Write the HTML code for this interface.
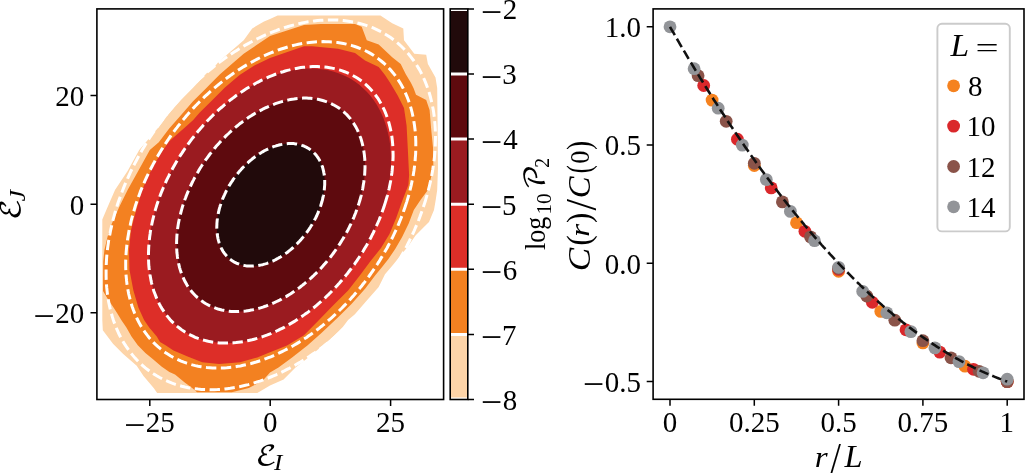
<!DOCTYPE html><html><head><meta charset="utf-8"><title>figure</title><style>html,body{margin:0;padding:0;background:#fff;overflow:hidden}svg{display:block}</style></head><body>
<svg width="1025" height="474" viewBox="0 0 1025 474">
<rect width="1025" height="474" fill="#fff"/>
<defs><clipPath id="c1"><rect x="96.9" y="8.9" width="346.7" height="390.6"/></clipPath>
<clipPath id="c2"><rect x="450.2" y="8.9" width="17.6" height="390.6"/></clipPath>
<clipPath id="c3"><rect x="653.1" y="8.9" width="370.9" height="390.4"/></clipPath></defs>
<g clip-path="url(#c1)">
<path d="M270.0,19.0 L277.6,15.6 L380.4,15.6 L392.2,23.3 L403.3,28.4 L404.0,40.3 L414.3,53.8 L426.2,54.7 L427.9,64.0 L435.5,77.6 L437.2,88.0 L438.0,168.0 L437.2,190.0 L435.7,200.0 L434.0,210.0 L429.0,222.0 L422.2,228.7 L415.5,235.5 L408.7,245.6 L400.3,255.7 L393.5,264.2 L385.0,274.3 L378.7,287.0 L366.8,300.6 L354.9,314.2 L348.1,320.0 L343.0,326.8 L332.8,337.0 L322.6,345.5 L310.7,355.7 L295.5,367.5 L283.6,379.4 L270.0,385.4 L265.8,387.9 L257.3,393.0 L157.1,393.0 L153.7,387.9 L143.5,376.0 L136.7,365.8 L123.2,354.0 L113.0,343.8 L102.8,330.2 L102.3,320.0 L102.3,219.6 L107.6,207.0 L115.0,190.0 L127.6,171.1 L139.2,150.0 L148.6,139.0 L158.8,127.0 L169.0,113.5 L180.9,99.9 L192.8,88.0 L206.4,73.4 L214.8,66.6 L218.2,62.3 L230.1,52.1 L243.7,40.3 L252.2,28.4 L264.0,21.6Z" fill="#fdd4a8"/>
<path d="M270.0,36.0 L304.0,25.0 L321.0,24.1 L355.0,24.1 L361.7,26.7 L366.8,40.3 L378.7,44.5 L392.2,57.2 L400.7,64.0 L405.8,74.2 L410.9,82.7 L413.5,88.0 L416.0,94.8 L426.2,99.9 L429.6,110.0 L431.3,130.4 L433.0,147.4 L433.4,168.0 L427.9,190.0 L420.5,200.0 L413.8,210.0 L408.7,223.6 L402.0,237.2 L395.2,249.0 L388.4,259.0 L381.7,267.6 L375.3,275.2 L365.1,288.7 L351.5,304.0 L337.9,317.6 L331.0,324.0 L320.9,333.6 L307.4,345.5 L292.1,357.4 L278.5,367.5 L270.0,372.6 L262.4,381.1 L248.8,387.9 L231.8,392.2 L197.0,392.2 L192.8,388.6 L184.4,382.3 L175.0,374.4 L169.4,371.9 L161.8,366.8 L153.0,359.2 L145.4,352.9 L137.8,345.3 L131.5,336.5 L126.4,327.6 L121.3,320.0 L116.9,312.7 L112.7,306.3 L108.4,300.0 L103.0,291.0 L103.2,262.0 L104.4,250.0 L107.6,236.5 L111.8,223.8 L119.2,207.0 L127.6,190.0 L138.2,171.0 L149.8,150.0 L158.8,142.3 L169.0,128.7 L180.9,115.2 L192.8,101.6 L206.4,88.0 L209.8,84.4 L220.0,74.2 L231.8,64.0 L243.7,53.8 L257.3,44.5Z" fill="#f38121"/>
<path d="M270.0,58.0 L304.0,46.2 L312.0,46.2 L338.0,48.7 L355.0,53.0 L365.0,60.6 L378.7,67.0 L385.0,75.0 L390.1,82.8 L397.7,95.4 L404.0,108.0 L406.6,125.8 L407.8,148.6 L409.1,175.0 L408.4,185.0 L402.2,201.0 L396.2,218.0 L389.5,234.0 L381.0,248.0 L370.2,261.6 L360.0,275.2 L348.1,290.4 L332.8,305.7 L319.0,320.0 L304.0,335.3 L287.0,345.5 L270.0,352.3 L257.3,357.4 L240.0,362.2 L219.1,363.9 L202.2,362.2 L187.0,356.3 L173.5,350.4 L165.6,345.3 L160.0,341.9 L156.8,336.5 L149.2,327.6 L144.1,320.0 L138.4,307.4 L133.4,290.4 L129.5,270.0 L129.0,250.0 L131.0,230.0 L135.0,214.3 L138.5,202.4 L142.0,190.6 L147.0,178.8 L153.7,165.3 L162.0,151.8 L169.0,141.5 L178.0,133.5 L186.0,126.5 L193.2,120.0 L199.5,112.8 L212.2,100.2 L224.9,87.5 L239.6,74.9 L254.4,65.4Z" fill="#dd2e28"/>
<path d="M384.1,204.8 L385.4,200.3 L386.6,195.6 L387.7,190.9 L388.6,186.0 L389.5,181.0 L390.1,176.0 L390.6,170.8 L390.9,165.6 L391.0,160.4 L390.9,155.1 L390.6,149.8 L390.1,144.4 L389.3,139.1 L388.2,133.8 L386.9,128.6 L385.3,123.4 L383.5,118.3 L381.4,113.4 L379.0,108.7 L376.3,104.1 L373.4,99.7 L370.2,95.6 L366.8,91.8 L363.1,88.2 L359.3,84.8 L355.2,81.8 L351.0,79.1 L346.7,76.8 L342.3,74.7 L337.7,72.9 L333.1,71.5 L328.4,70.3 L323.8,69.4 L319.1,68.9 L314.4,68.5 L309.7,68.5 L305.1,68.6 L300.5,69.0 L296.0,69.6 L291.6,70.4 L287.3,71.3 L283.0,72.4 L278.8,73.7 L274.8,75.0 L270.8,76.5 L266.9,78.1 L263.1,79.8 L259.4,81.6 L255.8,83.4 L252.3,85.4 L248.8,87.4 L245.5,89.4 L242.2,91.5 L239.0,93.7 L235.9,95.9 L232.9,98.1 L229.9,100.4 L227.0,102.7 L224.2,105.1 L221.4,107.5 L218.6,109.9 L216.0,112.4 L213.3,114.9 L210.8,117.4 L208.2,120.0 L205.7,122.7 L203.3,125.3 L200.9,128.0 L198.5,130.8 L196.2,133.6 L193.9,136.5 L191.6,139.4 L189.4,142.4 L187.2,145.4 L185.0,148.5 L182.9,151.6 L180.7,154.9 L178.7,158.2 L176.6,161.6 L174.6,165.0 L172.6,168.6 L170.7,172.2 L168.8,175.9 L166.9,179.7 L165.1,183.6 L163.3,187.7 L161.6,191.8 L160.0,196.0 L158.4,200.4 L156.9,204.8 L155.5,209.4 L154.2,214.1 L153.0,218.9 L151.9,223.8 L150.9,228.9 L150.1,234.0 L149.4,239.3 L148.9,244.6 L148.6,250.0 L148.5,255.5 L148.6,261.0 L148.9,266.5 L149.6,272.1 L150.5,277.6 L151.6,283.1 L153.1,288.5 L154.9,293.8 L156.9,298.9 L159.3,303.9 L162.0,308.6 L165.0,313.2 L168.3,317.4 L171.8,321.4 L175.6,325.0 L179.7,328.3 L183.9,331.3 L188.3,334.0 L192.9,336.2 L197.5,338.2 L202.3,339.8 L207.1,341.0 L212.0,342.0 L216.8,342.6 L221.7,343.0 L226.5,343.1 L231.3,343.0 L236.0,342.6 L240.7,342.0 L245.3,341.3 L249.8,340.3 L254.2,339.2 L258.5,338.0 L262.7,336.6 L266.8,335.2 L270.8,333.6 L274.7,331.9 L278.5,330.1 L282.2,328.3 L285.8,326.4 L289.3,324.4 L292.7,322.4 L296.1,320.3 L299.3,318.2 L302.5,316.0 L305.6,313.8 L308.7,311.6 L311.6,309.3 L314.6,307.0 L317.4,304.6 L320.2,302.2 L322.9,299.8 L325.6,297.3 L328.2,294.8 L330.8,292.2 L333.3,289.6 L335.8,287.0 L338.3,284.3 L340.7,281.6 L343.0,278.9 L345.4,276.0 L347.7,273.2 L349.9,270.3 L352.2,267.3 L354.4,264.3 L356.5,261.2 L358.7,258.0 L360.8,254.8 L362.9,251.5 L364.9,248.1 L366.9,244.6 L368.9,241.1 L370.8,237.5 L372.6,233.7 L374.5,229.9 L376.2,226.0 L378.0,222.0 L379.6,217.8 L381.2,213.6 L382.7,209.3Z" fill="#9a1b20"/>
<path d="M358.5,204.8 L359.6,201.3 L360.6,197.7 L361.5,194.0 L362.4,190.2 L363.1,186.3 L363.8,182.3 L364.3,178.3 L364.7,174.1 L364.9,170.0 L365.0,165.8 L364.9,161.5 L364.6,157.2 L364.1,152.9 L363.4,148.7 L362.5,144.4 L361.4,140.3 L360.0,136.2 L358.4,132.2 L356.6,128.4 L354.5,124.7 L352.2,121.2 L349.7,117.9 L347.0,114.9 L344.0,112.1 L340.9,109.5 L337.7,107.2 L334.3,105.2 L330.8,103.4 L327.2,101.9 L323.5,100.7 L319.8,99.7 L316.1,99.0 L312.3,98.5 L308.6,98.2 L304.8,98.1 L301.2,98.2 L297.5,98.5 L293.9,99.0 L290.4,99.5 L286.9,100.3 L283.6,101.1 L280.2,102.1 L277.0,103.1 L273.9,104.3 L270.8,105.5 L267.8,106.8 L264.8,108.1 L262.0,109.6 L259.2,111.0 L256.5,112.5 L253.9,114.1 L251.3,115.7 L248.8,117.3 L246.3,119.0 L243.9,120.7 L241.6,122.5 L239.3,124.2 L237.1,126.0 L234.9,127.8 L232.7,129.7 L230.6,131.6 L228.6,133.5 L226.5,135.4 L224.6,137.4 L222.6,139.4 L220.7,141.4 L218.8,143.5 L216.9,145.6 L215.1,147.7 L213.3,149.9 L211.5,152.1 L209.8,154.3 L208.1,156.6 L206.4,159.0 L204.7,161.4 L203.1,163.8 L201.4,166.3 L199.8,168.8 L198.3,171.4 L196.7,174.1 L195.2,176.8 L193.7,179.6 L192.2,182.5 L190.8,185.5 L189.4,188.5 L188.0,191.6 L186.7,194.8 L185.5,198.0 L184.2,201.4 L183.1,204.8 L182.0,208.4 L181.0,212.0 L180.0,215.7 L179.2,219.5 L178.4,223.4 L177.8,227.4 L177.3,231.4 L176.9,235.5 L176.7,239.7 L176.6,243.9 L176.7,248.2 L176.9,252.5 L177.4,256.7 L178.1,261.0 L179.0,265.2 L180.1,269.4 L181.5,273.5 L183.1,277.4 L184.9,281.3 L187.0,285.0 L189.3,288.4 L191.8,291.7 L194.6,294.8 L197.5,297.6 L200.6,300.2 L203.9,302.5 L207.3,304.5 L210.8,306.2 L214.4,307.7 L218.0,309.0 L221.7,310.0 L225.5,310.7 L229.2,311.2 L233.0,311.5 L236.7,311.6 L240.4,311.4 L244.0,311.2 L247.6,310.7 L251.1,310.1 L254.6,309.4 L258.0,308.6 L261.3,307.6 L264.5,306.5 L267.7,305.4 L270.8,304.2 L273.8,302.9 L276.7,301.5 L279.6,300.1 L282.3,298.6 L285.0,297.1 L287.7,295.6 L290.3,294.0 L292.8,292.3 L295.2,290.7 L297.6,288.9 L300.0,287.2 L302.3,285.4 L304.5,283.6 L306.7,281.8 L308.8,280.0 L310.9,278.1 L313.0,276.2 L315.0,274.2 L317.0,272.3 L318.9,270.3 L320.9,268.2 L322.7,266.2 L324.6,264.1 L326.4,262.0 L328.2,259.8 L330.0,257.6 L331.7,255.3 L333.5,253.0 L335.2,250.7 L336.8,248.3 L338.5,245.9 L340.1,243.4 L341.7,240.8 L343.3,238.2 L344.8,235.6 L346.4,232.8 L347.9,230.0 L349.3,227.2 L350.8,224.2 L352.2,221.2 L353.5,218.1 L354.8,214.9 L356.1,211.6 L357.3,208.3Z" fill="#5e0a0e"/>
<path d="M321.0,204.8 L321.6,202.8 L322.2,200.7 L322.7,198.6 L323.2,196.4 L323.7,194.2 L324.0,191.9 L324.3,189.6 L324.5,187.2 L324.7,184.8 L324.7,182.4 L324.7,179.9 L324.5,177.5 L324.2,175.0 L323.8,172.6 L323.3,170.1 L322.7,167.7 L321.9,165.4 L321.0,163.1 L319.9,160.9 L318.7,158.8 L317.4,156.8 L316.0,154.9 L314.4,153.2 L312.7,151.6 L311.0,150.1 L309.1,148.8 L307.1,147.6 L305.1,146.6 L303.1,145.7 L301.0,145.0 L298.9,144.5 L296.7,144.0 L294.6,143.7 L292.4,143.6 L290.3,143.5 L288.2,143.6 L286.1,143.8 L284.0,144.0 L282.0,144.4 L280.0,144.8 L278.1,145.3 L276.2,145.8 L274.3,146.4 L272.5,147.1 L270.8,147.8 L269.1,148.5 L267.4,149.3 L265.7,150.1 L264.1,150.9 L262.6,151.8 L261.1,152.7 L259.6,153.6 L258.2,154.6 L256.8,155.5 L255.4,156.5 L254.1,157.5 L252.7,158.5 L251.5,159.6 L250.2,160.6 L249.0,161.7 L247.8,162.8 L246.6,163.9 L245.4,165.0 L244.3,166.1 L243.2,167.2 L242.1,168.4 L241.0,169.6 L239.9,170.8 L238.9,172.0 L237.9,173.3 L236.9,174.5 L235.9,175.8 L234.9,177.1 L233.9,178.5 L232.9,179.9 L232.0,181.3 L231.1,182.7 L230.1,184.2 L229.2,185.6 L228.4,187.2 L227.5,188.8 L226.6,190.4 L225.8,192.0 L225.0,193.7 L224.2,195.4 L223.4,197.2 L222.6,199.0 L221.9,200.9 L221.2,202.9 L220.6,204.8 L219.9,206.9 L219.3,208.9 L218.8,211.1 L218.3,213.3 L217.9,215.5 L217.5,217.8 L217.2,220.1 L217.0,222.5 L216.9,224.9 L216.8,227.3 L216.9,229.7 L217.0,232.2 L217.3,234.6 L217.7,237.1 L218.2,239.5 L218.9,241.9 L219.6,244.3 L220.6,246.5 L221.6,248.7 L222.8,250.9 L224.1,252.9 L225.6,254.7 L227.1,256.5 L228.8,258.1 L230.6,259.6 L232.5,260.9 L234.4,262.1 L236.4,263.1 L238.5,263.9 L240.6,264.7 L242.7,265.2 L244.8,265.6 L247.0,265.9 L249.1,266.1 L251.3,266.1 L253.4,266.1 L255.5,265.9 L257.5,265.7 L259.5,265.3 L261.5,264.9 L263.5,264.4 L265.3,263.9 L267.2,263.3 L269.0,262.6 L270.8,261.9 L272.5,261.2 L274.2,260.4 L275.8,259.6 L277.4,258.7 L278.9,257.8 L280.5,257.0 L281.9,256.0 L283.4,255.1 L284.8,254.1 L286.2,253.1 L287.5,252.2 L288.8,251.1 L290.1,250.1 L291.3,249.1 L292.6,248.0 L293.8,246.9 L295.0,245.8 L296.1,244.7 L297.2,243.6 L298.4,242.4 L299.5,241.3 L300.5,240.1 L301.6,238.9 L302.6,237.6 L303.7,236.4 L304.7,235.1 L305.7,233.8 L306.7,232.5 L307.7,231.2 L308.6,229.8 L309.6,228.4 L310.5,227.0 L311.4,225.5 L312.3,224.0 L313.2,222.5 L314.1,220.9 L314.9,219.3 L315.8,217.7 L316.6,216.0 L317.4,214.2 L318.2,212.4 L318.9,210.6 L319.6,208.7 L320.3,206.8Z" fill="#210a0b"/>
<path d="M321.0,204.8 L321.3,203.8 L321.6,202.8 L321.9,201.8 L322.2,200.7 L322.5,199.7 L322.7,198.6 L323.0,197.5 L323.2,196.4 L323.5,195.3 L323.7,194.2 L323.8,193.0 L324.0,191.9 L324.2,190.7 L324.3,189.6 L324.4,188.4 L324.5,187.2 L324.6,186.0 L324.7,184.8 L324.7,183.6 L324.7,182.4 L324.7,181.2 L324.7,179.9 L324.6,178.7 L324.5,177.5 L324.4,176.2 L324.2,175.0 L324.1,173.8 L323.8,172.6 L323.6,171.4 L323.3,170.1 L323.0,168.9 L322.7,167.7 L322.3,166.6 L321.9,165.4 L321.5,164.3 L321.0,163.1 L320.5,162.0 L319.9,160.9 L319.4,159.9 L318.7,158.8 L318.1,157.8 L317.4,156.8 L316.7,155.9 L316.0,154.9 L315.2,154.0 L314.4,153.2 L313.6,152.3 L312.7,151.6 L311.9,150.8 L311.0,150.1 L310.0,149.4 L309.1,148.8 L308.1,148.2 L307.1,147.6 L306.2,147.1 L305.1,146.6 L304.1,146.1 L303.1,145.7 L302.0,145.4 L301.0,145.0 L299.9,144.7 L298.9,144.5 L297.8,144.2 L296.7,144.0 L295.6,143.9 L294.6,143.7 L293.5,143.6 L292.4,143.6 L291.4,143.5 L290.3,143.5 L289.2,143.6 L288.2,143.6 L287.1,143.7 L286.1,143.8 L285.1,143.9 L284.0,144.0 L283.0,144.2 L282.0,144.4 L281.0,144.6 L280.0,144.8 L279.1,145.0 L278.1,145.3 L277.1,145.5 L276.2,145.8 L275.3,146.1 L274.3,146.4 L273.4,146.7 L272.5,147.1 L271.7,147.4 L270.8,147.8 L269.9,148.1 L269.1,148.5 L268.2,148.9 L267.4,149.3 L266.6,149.7 L265.7,150.1 L264.9,150.5 L264.1,150.9 L263.4,151.4 L262.6,151.8 L261.8,152.3 L261.1,152.7 L260.3,153.2 L259.6,153.6 L258.9,154.1 L258.2,154.6 L257.5,155.1 L256.8,155.5 L256.1,156.0 L255.4,156.5 L254.7,157.0 L254.1,157.5 L253.4,158.0 L252.7,158.5 L252.1,159.0 L251.5,159.6 L250.8,160.1 L250.2,160.6 L249.6,161.1 L249.0,161.7 L248.4,162.2 L247.8,162.8 L247.2,163.3 L246.6,163.9 L246.0,164.4 L245.4,165.0 L244.9,165.5 L244.3,166.1 L243.7,166.7 L243.2,167.2 L242.6,167.8 L242.1,168.4 L241.5,169.0 L241.0,169.6 L240.5,170.2 L239.9,170.8 L239.4,171.4 L238.9,172.0 L238.4,172.6 L237.9,173.3 L237.4,173.9 L236.9,174.5 L236.4,175.2 L235.9,175.8 L235.4,176.5 L234.9,177.1 L234.4,177.8 L233.9,178.5 L233.4,179.2 L232.9,179.9 L232.5,180.6 L232.0,181.3 L231.5,182.0 L231.1,182.7 L230.6,183.4 L230.1,184.2 L229.7,184.9 L229.2,185.6 L228.8,186.4 L228.4,187.2 L227.9,188.0 L227.5,188.8 L227.0,189.6 L226.6,190.4 L226.2,191.2 L225.8,192.0 L225.4,192.9 L225.0,193.7 L224.6,194.6 L224.2,195.4 L223.8,196.3 L223.4,197.2 L223.0,198.1 L222.6,199.0 L222.3,200.0 L221.9,200.9 L221.6,201.9 L221.2,202.9 L220.9,203.8 L220.6,204.8 L220.2,205.8 L219.9,206.9 L219.6,207.9 L219.3,208.9 L219.1,210.0 L218.8,211.1 L218.6,212.2 L218.3,213.3 L218.1,214.4 L217.9,215.5 L217.7,216.6 L217.5,217.8 L217.4,218.9 L217.2,220.1 L217.1,221.3 L217.0,222.5 L216.9,223.7 L216.9,224.9 L216.8,226.1 L216.8,227.3 L216.8,228.5 L216.9,229.7 L216.9,231.0 L217.0,232.2 L217.2,233.4 L217.3,234.6 L217.5,235.9 L217.7,237.1 L217.9,238.3 L218.2,239.5 L218.5,240.7 L218.9,241.9 L219.2,243.1 L219.6,244.3 L220.1,245.4 L220.6,246.5 L221.1,247.7 L221.6,248.7 L222.2,249.8 L222.8,250.9 L223.4,251.9 L224.1,252.9 L224.8,253.8 L225.6,254.7 L226.3,255.6 L227.1,256.5 L228.0,257.3 L228.8,258.1 L229.7,258.9 L230.6,259.6 L231.5,260.3 L232.5,260.9 L233.4,261.5 L234.4,262.1 L235.4,262.6 L236.4,263.1 L237.4,263.5 L238.5,263.9 L239.5,264.3 L240.6,264.7 L241.6,265.0 L242.7,265.2 L243.8,265.4 L244.8,265.6 L245.9,265.8 L247.0,265.9 L248.1,266.0 L249.1,266.1 L250.2,266.1 L251.3,266.1 L252.3,266.1 L253.4,266.1 L254.4,266.0 L255.5,265.9 L256.5,265.8 L257.5,265.7 L258.5,265.5 L259.5,265.3 L260.5,265.1 L261.5,264.9 L262.5,264.7 L263.5,264.4 L264.4,264.1 L265.3,263.9 L266.3,263.6 L267.2,263.3 L268.1,262.9 L269.0,262.6 L269.9,262.3 L270.8,261.9 L271.6,261.5 L272.5,261.2 L273.3,260.8 L274.2,260.4 L275.0,260.0 L275.8,259.6 L276.6,259.1 L277.4,258.7 L278.2,258.3 L278.9,257.8 L279.7,257.4 L280.5,257.0 L281.2,256.5 L281.9,256.0 L282.7,255.6 L283.4,255.1 L284.1,254.6 L284.8,254.1 L285.5,253.6 L286.2,253.1 L286.8,252.7 L287.5,252.2 L288.2,251.6 L288.8,251.1 L289.4,250.6 L290.1,250.1 L290.7,249.6 L291.3,249.1 L292.0,248.5 L292.6,248.0 L293.2,247.5 L293.8,246.9 L294.4,246.4 L295.0,245.8 L295.5,245.3 L296.1,244.7 L296.7,244.1 L297.2,243.6 L297.8,243.0 L298.4,242.4 L298.9,241.8 L299.5,241.3 L300.0,240.7 L300.5,240.1 L301.1,239.5 L301.6,238.9 L302.1,238.3 L302.6,237.6 L303.2,237.0 L303.7,236.4 L304.2,235.8 L304.7,235.1 L305.2,234.5 L305.7,233.8 L306.2,233.2 L306.7,232.5 L307.2,231.9 L307.7,231.2 L308.1,230.5 L308.6,229.8 L309.1,229.1 L309.6,228.4 L310.0,227.7 L310.5,227.0 L310.9,226.3 L311.4,225.5 L311.9,224.8 L312.3,224.0 L312.8,223.3 L313.2,222.5 L313.6,221.7 L314.1,220.9 L314.5,220.1 L314.9,219.3 L315.3,218.5 L315.8,217.7 L316.2,216.8 L316.6,216.0 L317.0,215.1 L317.4,214.2 L317.8,213.3 L318.2,212.4 L318.5,211.5 L318.9,210.6 L319.3,209.7 L319.6,208.7 L320.0,207.8 L320.3,206.8 L320.7,205.8Z" fill="none" stroke="#fff" stroke-width="3" stroke-dasharray="10.4 4.5"/>
<path d="M358.5,204.8 L359.0,203.1 L359.6,201.3 L360.1,199.5 L360.6,197.7 L361.1,195.8 L361.5,194.0 L362.0,192.1 L362.4,190.2 L362.8,188.2 L363.1,186.3 L363.4,184.3 L363.8,182.3 L364.0,180.3 L364.3,178.3 L364.5,176.2 L364.7,174.1 L364.8,172.1 L364.9,170.0 L365.0,167.9 L365.0,165.8 L364.9,163.6 L364.9,161.5 L364.8,159.4 L364.6,157.2 L364.4,155.1 L364.1,152.9 L363.8,150.8 L363.4,148.7 L363.0,146.5 L362.5,144.4 L362.0,142.3 L361.4,140.3 L360.8,138.2 L360.0,136.2 L359.3,134.2 L358.4,132.2 L357.6,130.3 L356.6,128.4 L355.6,126.5 L354.5,124.7 L353.4,122.9 L352.2,121.2 L351.0,119.6 L349.7,117.9 L348.4,116.4 L347.0,114.9 L345.5,113.5 L344.0,112.1 L342.5,110.8 L340.9,109.5 L339.3,108.3 L337.7,107.2 L336.0,106.2 L334.3,105.2 L332.5,104.3 L330.8,103.4 L329.0,102.6 L327.2,101.9 L325.4,101.3 L323.5,100.7 L321.7,100.2 L319.8,99.7 L317.9,99.3 L316.1,99.0 L314.2,98.7 L312.3,98.5 L310.4,98.3 L308.6,98.2 L306.7,98.1 L304.8,98.1 L303.0,98.1 L301.2,98.2 L299.3,98.3 L297.5,98.5 L295.7,98.7 L293.9,99.0 L292.2,99.2 L290.4,99.5 L288.7,99.9 L286.9,100.3 L285.2,100.7 L283.6,101.1 L281.9,101.6 L280.2,102.1 L278.6,102.6 L277.0,103.1 L275.4,103.7 L273.9,104.3 L272.3,104.9 L270.8,105.5 L269.3,106.1 L267.8,106.8 L266.3,107.5 L264.8,108.1 L263.4,108.8 L262.0,109.6 L260.6,110.3 L259.2,111.0 L257.8,111.8 L256.5,112.5 L255.2,113.3 L253.9,114.1 L252.6,114.9 L251.3,115.7 L250.0,116.5 L248.8,117.3 L247.5,118.2 L246.3,119.0 L245.1,119.9 L243.9,120.7 L242.7,121.6 L241.6,122.5 L240.4,123.3 L239.3,124.2 L238.2,125.1 L237.1,126.0 L236.0,126.9 L234.9,127.8 L233.8,128.8 L232.7,129.7 L231.7,130.6 L230.6,131.6 L229.6,132.5 L228.6,133.5 L227.5,134.5 L226.5,135.4 L225.5,136.4 L224.6,137.4 L223.6,138.4 L222.6,139.4 L221.6,140.4 L220.7,141.4 L219.7,142.4 L218.8,143.5 L217.9,144.5 L216.9,145.6 L216.0,146.6 L215.1,147.7 L214.2,148.8 L213.3,149.9 L212.4,151.0 L211.5,152.1 L210.7,153.2 L209.8,154.3 L208.9,155.5 L208.1,156.6 L207.2,157.8 L206.4,159.0 L205.5,160.2 L204.7,161.4 L203.9,162.6 L203.1,163.8 L202.2,165.0 L201.4,166.3 L200.6,167.5 L199.8,168.8 L199.0,170.1 L198.3,171.4 L197.5,172.8 L196.7,174.1 L195.9,175.5 L195.2,176.8 L194.4,178.2 L193.7,179.6 L192.9,181.1 L192.2,182.5 L191.5,184.0 L190.8,185.5 L190.1,187.0 L189.4,188.5 L188.7,190.0 L188.0,191.6 L187.4,193.2 L186.7,194.8 L186.1,196.4 L185.5,198.0 L184.8,199.7 L184.2,201.4 L183.7,203.1 L183.1,204.8 L182.5,206.6 L182.0,208.4 L181.5,210.2 L181.0,212.0 L180.5,213.8 L180.0,215.7 L179.6,217.6 L179.2,219.5 L178.8,221.4 L178.4,223.4 L178.1,225.4 L177.8,227.4 L177.5,229.4 L177.3,231.4 L177.1,233.5 L176.9,235.5 L176.8,237.6 L176.7,239.7 L176.6,241.8 L176.6,243.9 L176.6,246.0 L176.7,248.2 L176.8,250.3 L176.9,252.5 L177.2,254.6 L177.4,256.7 L177.7,258.9 L178.1,261.0 L178.5,263.1 L179.0,265.2 L179.5,267.3 L180.1,269.4 L180.8,271.4 L181.5,273.5 L182.3,275.5 L183.1,277.4 L184.0,279.4 L184.9,281.3 L185.9,283.1 L187.0,285.0 L188.1,286.7 L189.3,288.4 L190.6,290.1 L191.8,291.7 L193.2,293.3 L194.6,294.8 L196.0,296.2 L197.5,297.6 L199.0,298.9 L200.6,300.2 L202.2,301.3 L203.9,302.5 L205.5,303.5 L207.3,304.5 L209.0,305.4 L210.8,306.2 L212.6,307.0 L214.4,307.7 L216.2,308.4 L218.0,309.0 L219.9,309.5 L221.7,310.0 L223.6,310.3 L225.5,310.7 L227.4,311.0 L229.2,311.2 L231.1,311.4 L233.0,311.5 L234.8,311.5 L236.7,311.6 L238.5,311.5 L240.4,311.4 L242.2,311.3 L244.0,311.2 L245.8,311.0 L247.6,310.7 L249.4,310.4 L251.1,310.1 L252.9,309.8 L254.6,309.4 L256.3,309.0 L258.0,308.6 L259.7,308.1 L261.3,307.6 L262.9,307.1 L264.5,306.5 L266.1,306.0 L267.7,305.4 L269.2,304.8 L270.8,304.2 L272.3,303.5 L273.8,302.9 L275.3,302.2 L276.7,301.5 L278.1,300.8 L279.6,300.1 L281.0,299.4 L282.3,298.6 L283.7,297.9 L285.0,297.1 L286.4,296.4 L287.7,295.6 L289.0,294.8 L290.3,294.0 L291.5,293.2 L292.8,292.3 L294.0,291.5 L295.2,290.7 L296.4,289.8 L297.6,288.9 L298.8,288.1 L300.0,287.2 L301.1,286.3 L302.3,285.4 L303.4,284.5 L304.5,283.6 L305.6,282.7 L306.7,281.8 L307.8,280.9 L308.8,280.0 L309.9,279.0 L310.9,278.1 L312.0,277.1 L313.0,276.2 L314.0,275.2 L315.0,274.2 L316.0,273.3 L317.0,272.3 L318.0,271.3 L318.9,270.3 L319.9,269.3 L320.9,268.2 L321.8,267.2 L322.7,266.2 L323.7,265.1 L324.6,264.1 L325.5,263.0 L326.4,262.0 L327.3,260.9 L328.2,259.8 L329.1,258.7 L330.0,257.6 L330.9,256.5 L331.7,255.3 L332.6,254.2 L333.5,253.0 L334.3,251.9 L335.2,250.7 L336.0,249.5 L336.8,248.3 L337.7,247.1 L338.5,245.9 L339.3,244.6 L340.1,243.4 L340.9,242.1 L341.7,240.8 L342.5,239.5 L343.3,238.2 L344.1,236.9 L344.8,235.6 L345.6,234.2 L346.4,232.8 L347.1,231.4 L347.9,230.0 L348.6,228.6 L349.3,227.2 L350.0,225.7 L350.8,224.2 L351.5,222.7 L352.2,221.2 L352.8,219.7 L353.5,218.1 L354.2,216.5 L354.8,214.9 L355.5,213.3 L356.1,211.6 L356.7,210.0 L357.3,208.3 L357.9,206.6Z" fill="none" stroke="#fff" stroke-width="3" stroke-dasharray="10.4 4.5"/>
<path d="M384.6,204.8 L385.3,202.6 L386.0,200.3 L386.7,197.9 L387.4,195.6 L388.0,193.2 L388.6,190.7 L389.2,188.3 L389.7,185.8 L390.2,183.3 L390.7,180.8 L391.1,178.2 L391.5,175.6 L391.9,173.0 L392.2,170.4 L392.4,167.7 L392.7,165.1 L392.8,162.4 L393.0,159.7 L393.1,156.9 L393.1,154.2 L393.0,151.4 L393.0,148.7 L392.8,145.9 L392.6,143.1 L392.3,140.4 L392.0,137.6 L391.6,134.8 L391.1,132.1 L390.5,129.3 L389.9,126.6 L389.2,123.9 L388.5,121.2 L387.6,118.5 L386.7,115.9 L385.7,113.3 L384.6,110.7 L383.4,108.2 L382.2,105.8 L380.9,103.4 L379.5,101.0 L378.1,98.7 L376.5,96.5 L374.9,94.3 L373.2,92.2 L371.5,90.2 L369.7,88.3 L367.8,86.4 L365.9,84.6 L363.9,82.9 L361.9,81.3 L359.8,79.8 L357.6,78.3 L355.5,77.0 L353.2,75.7 L351.0,74.5 L348.7,73.4 L346.4,72.4 L344.0,71.5 L341.6,70.7 L339.3,69.9 L336.8,69.2 L334.4,68.6 L332.0,68.1 L329.6,67.7 L327.1,67.3 L324.7,67.0 L322.3,66.8 L319.8,66.7 L317.4,66.6 L315.0,66.5 L312.6,66.6 L310.2,66.7 L307.9,66.8 L305.5,67.1 L303.2,67.3 L300.8,67.6 L298.5,68.0 L296.3,68.4 L294.0,68.9 L291.8,69.3 L289.6,69.9 L287.4,70.4 L285.2,71.0 L283.1,71.7 L281.0,72.3 L278.9,73.0 L276.8,73.8 L274.8,74.5 L272.8,75.3 L270.8,76.1 L268.8,76.9 L266.9,77.8 L265.0,78.6 L263.1,79.5 L261.2,80.4 L259.4,81.4 L257.6,82.3 L255.8,83.3 L254.0,84.3 L252.2,85.2 L250.5,86.2 L248.8,87.3 L247.1,88.3 L245.5,89.3 L243.8,90.4 L242.2,91.5 L240.6,92.5 L239.0,93.6 L237.5,94.7 L235.9,95.8 L234.4,97.0 L232.9,98.1 L231.4,99.2 L229.9,100.4 L228.4,101.5 L227.0,102.7 L225.6,103.9 L224.1,105.1 L222.8,106.3 L221.4,107.5 L220.0,108.7 L218.6,109.9 L217.3,111.1 L216.0,112.4 L214.6,113.6 L213.3,114.9 L212.0,116.2 L210.8,117.4 L209.5,118.7 L208.2,120.0 L207.0,121.3 L205.7,122.7 L204.5,124.0 L203.3,125.3 L202.1,126.7 L200.9,128.0 L199.7,129.4 L198.5,130.8 L197.3,132.2 L196.2,133.6 L195.0,135.0 L193.9,136.5 L192.7,137.9 L191.6,139.4 L190.5,140.9 L189.4,142.4 L188.3,143.9 L187.2,145.4 L186.1,146.9 L185.0,148.5 L183.9,150.1 L182.9,151.6 L181.8,153.3 L180.7,154.9 L179.7,156.5 L178.7,158.2 L177.6,159.9 L176.6,161.6 L175.6,163.3 L174.6,165.0 L173.6,166.8 L172.6,168.6 L171.6,170.4 L170.7,172.2 L169.7,174.0 L168.8,175.9 L167.8,177.8 L166.9,179.7 L166.0,181.7 L165.1,183.6 L164.2,185.6 L163.3,187.7 L162.5,189.7 L161.6,191.8 L160.8,193.9 L160.0,196.0 L159.2,198.2 L158.4,200.4 L157.7,202.6 L156.9,204.8 L156.2,207.1 L155.5,209.4 L154.8,211.7 L154.2,214.1 L153.6,216.5 L153.0,218.9 L152.4,221.4 L151.9,223.8 L151.4,226.4 L150.9,228.9 L150.4,231.4 L150.1,234.0 L149.7,236.6 L149.4,239.3 L149.1,241.9 L148.9,244.6 L148.7,247.3 L148.6,250.0 L148.5,252.7 L148.5,255.5 L148.5,258.2 L148.6,261.0 L148.7,263.8 L148.9,266.5 L149.2,269.3 L149.6,272.1 L150.0,274.9 L150.5,277.6 L151.0,280.4 L151.6,283.1 L152.3,285.8 L153.1,288.5 L153.9,291.2 L154.9,293.8 L155.9,296.4 L156.9,298.9 L158.1,301.4 L159.3,303.9 L160.6,306.3 L162.0,308.6 L163.5,310.9 L165.0,313.2 L166.6,315.3 L168.3,317.4 L170.0,319.4 L171.8,321.4 L173.7,323.2 L175.6,325.0 L177.6,326.7 L179.7,328.3 L181.8,329.9 L183.9,331.3 L186.1,332.7 L188.3,334.0 L190.6,335.1 L192.9,336.2 L195.2,337.3 L197.5,338.2 L199.9,339.0 L202.3,339.8 L204.7,340.4 L207.1,341.0 L209.5,341.6 L212.0,342.0 L214.4,342.4 L216.8,342.6 L219.3,342.9 L221.7,343.0 L224.1,343.1 L226.5,343.1 L228.9,343.1 L231.3,343.0 L233.7,342.8 L236.0,342.6 L238.4,342.3 L240.7,342.0 L243.0,341.7 L245.3,341.3 L247.5,340.8 L249.8,340.3 L252.0,339.8 L254.2,339.2 L256.3,338.6 L258.5,338.0 L260.6,337.3 L262.7,336.6 L264.7,335.9 L266.8,335.2 L268.8,334.4 L270.8,333.6 L272.7,332.7 L274.7,331.9 L276.6,331.0 L278.5,330.1 L280.3,329.2 L282.2,328.3 L284.0,327.4 L285.8,326.4 L287.6,325.4 L289.3,324.4 L291.0,323.4 L292.7,322.4 L294.4,321.4 L296.1,320.3 L297.7,319.3 L299.3,318.2 L300.9,317.1 L302.5,316.0 L304.1,314.9 L305.6,313.8 L307.2,312.7 L308.7,311.6 L310.2,310.4 L311.6,309.3 L313.1,308.1 L314.6,307.0 L316.0,305.8 L317.4,304.6 L318.8,303.4 L320.2,302.2 L321.6,301.0 L322.9,299.8 L324.3,298.5 L325.6,297.3 L326.9,296.0 L328.2,294.8 L329.5,293.5 L330.8,292.2 L332.1,290.9 L333.3,289.6 L334.6,288.3 L335.8,287.0 L337.0,285.7 L338.3,284.3 L339.5,283.0 L340.7,281.6 L341.9,280.2 L343.0,278.9 L344.2,277.5 L345.4,276.0 L346.5,274.6 L347.7,273.2 L348.8,271.7 L349.9,270.3 L351.1,268.8 L352.2,267.3 L353.3,265.8 L354.4,264.3 L355.5,262.7 L356.6,261.2 L357.6,259.6 L358.7,258.0 L359.8,256.4 L360.8,254.8 L361.8,253.2 L362.9,251.5 L363.9,249.8 L364.9,248.1 L365.9,246.4 L366.9,244.7 L367.9,242.9 L368.9,241.1 L369.9,239.3 L370.9,237.5 L371.8,235.6 L372.8,233.8 L373.7,231.9 L374.6,229.9 L375.5,228.0 L376.4,226.0 L377.3,224.0 L378.2,222.0 L379.1,220.0 L379.9,217.9 L380.7,215.8 L381.6,213.6 L382.3,211.5 L383.1,209.3 L383.9,207.1Z" fill="none" stroke="#fff" stroke-width="3" stroke-dasharray="10.4 4.5"/>
<path d="M405.8,204.8 L406.7,202.1 L407.5,199.4 L408.3,196.7 L409.1,193.9 L409.8,191.1 L410.5,188.2 L411.2,185.3 L411.8,182.4 L412.4,179.4 L413.0,176.4 L413.5,173.4 L414.0,170.4 L414.4,167.3 L414.8,164.2 L415.1,161.1 L415.3,157.9 L415.6,154.7 L415.7,151.5 L415.8,148.3 L415.8,145.1 L415.8,141.8 L415.7,138.6 L415.5,135.3 L415.3,132.0 L414.9,128.7 L414.5,125.5 L414.0,122.2 L413.5,118.9 L412.8,115.7 L412.1,112.5 L411.3,109.3 L410.4,106.1 L409.3,103.0 L408.3,99.9 L407.1,96.8 L405.8,93.8 L404.4,90.8 L403.0,87.9 L401.4,85.1 L399.8,82.3 L398.0,79.6 L396.2,77.0 L394.3,74.4 L392.3,72.0 L390.3,69.6 L388.1,67.3 L385.9,65.1 L383.6,63.0 L381.2,61.0 L378.8,59.1 L376.3,57.3 L373.8,55.5 L371.2,53.9 L368.6,52.4 L365.9,51.0 L363.2,49.7 L360.4,48.6 L357.6,47.5 L354.8,46.5 L352.0,45.6 L349.1,44.8 L346.3,44.1 L343.4,43.5 L340.5,43.0 L337.6,42.5 L334.7,42.2 L331.9,41.9 L329.0,41.8 L326.1,41.7 L323.2,41.6 L320.4,41.7 L317.6,41.8 L314.8,42.0 L312.0,42.2 L309.2,42.5 L306.4,42.9 L303.7,43.3 L301.0,43.8 L298.3,44.3 L295.7,44.9 L293.1,45.5 L290.5,46.2 L287.9,46.9 L285.4,47.7 L282.9,48.5 L280.4,49.3 L277.9,50.1 L275.5,51.0 L273.1,52.0 L270.8,52.9 L268.4,53.9 L266.1,54.9 L263.9,55.9 L261.6,57.0 L259.4,58.0 L257.2,59.1 L255.1,60.2 L253.0,61.4 L250.9,62.5 L248.8,63.7 L246.7,64.9 L244.7,66.1 L242.7,67.3 L240.8,68.5 L238.8,69.8 L236.9,71.0 L235.0,72.3 L233.1,73.6 L231.2,74.9 L229.4,76.2 L227.6,77.5 L225.8,78.9 L224.0,80.2 L222.3,81.6 L220.6,82.9 L218.8,84.3 L217.2,85.7 L215.5,87.1 L213.8,88.5 L212.2,89.9 L210.5,91.4 L208.9,92.8 L207.3,94.3 L205.8,95.7 L204.2,97.2 L202.7,98.7 L201.1,100.2 L199.6,101.7 L198.1,103.2 L196.6,104.8 L195.1,106.3 L193.6,107.9 L192.2,109.4 L190.7,111.0 L189.3,112.6 L187.9,114.2 L186.5,115.8 L185.1,117.5 L183.7,119.1 L182.3,120.8 L180.9,122.5 L179.6,124.2 L178.2,125.9 L176.9,127.6 L175.5,129.3 L174.2,131.1 L172.9,132.9 L171.6,134.7 L170.3,136.5 L169.0,138.3 L167.8,140.2 L166.5,142.1 L165.2,144.0 L164.0,145.9 L162.8,147.8 L161.5,149.8 L160.3,151.8 L159.1,153.8 L157.9,155.8 L156.7,157.8 L155.5,159.9 L154.4,162.0 L153.2,164.1 L152.1,166.3 L150.9,168.5 L149.8,170.7 L148.7,172.9 L147.6,175.2 L146.5,177.5 L145.4,179.8 L144.4,182.2 L143.4,184.6 L142.3,187.0 L141.3,189.4 L140.3,191.9 L139.4,194.4 L138.4,197.0 L137.5,199.6 L136.6,202.2 L135.7,204.8 L134.9,207.5 L134.1,210.2 L133.3,213.0 L132.5,215.8 L131.7,218.6 L131.0,221.5 L130.4,224.4 L129.7,227.3 L129.1,230.2 L128.6,233.2 L128.1,236.2 L127.6,239.3 L127.2,242.4 L126.8,245.5 L126.5,248.6 L126.2,251.8 L126.0,254.9 L125.8,258.1 L125.7,261.4 L125.7,264.6 L125.7,267.9 L125.9,271.1 L126.0,274.4 L126.3,277.7 L126.6,280.9 L127.0,284.2 L127.5,287.5 L128.1,290.7 L128.7,294.0 L129.5,297.2 L130.3,300.4 L131.2,303.6 L132.2,306.7 L133.3,309.8 L134.5,312.9 L135.8,315.9 L137.1,318.8 L138.6,321.7 L140.1,324.6 L141.8,327.4 L143.5,330.1 L145.3,332.7 L147.2,335.2 L149.2,337.7 L151.3,340.1 L153.4,342.4 L155.7,344.6 L157.9,346.7 L160.3,348.7 L162.7,350.6 L165.2,352.4 L167.7,354.1 L170.3,355.7 L173.0,357.2 L175.6,358.6 L178.4,359.9 L181.1,361.1 L183.9,362.2 L186.7,363.2 L189.6,364.1 L192.4,364.9 L195.3,365.6 L198.1,366.2 L201.0,366.7 L203.9,367.1 L206.8,367.5 L209.7,367.7 L212.6,367.9 L215.4,368.0 L218.3,368.0 L221.1,368.0 L224.0,367.9 L226.8,367.7 L229.6,367.4 L232.4,367.1 L235.1,366.8 L237.8,366.3 L240.5,365.9 L243.2,365.3 L245.9,364.7 L248.5,364.1 L251.1,363.5 L253.6,362.7 L256.2,362.0 L258.7,361.2 L261.2,360.4 L263.6,359.5 L266.0,358.6 L268.4,357.7 L270.8,356.8 L273.1,355.8 L275.4,354.8 L277.7,353.8 L279.9,352.7 L282.1,351.6 L284.3,350.5 L286.5,349.4 L288.6,348.3 L290.7,347.1 L292.8,346.0 L294.8,344.8 L296.8,343.6 L298.8,342.4 L300.8,341.1 L302.7,339.9 L304.7,338.6 L306.6,337.4 L308.4,336.1 L310.3,334.8 L312.1,333.5 L313.9,332.1 L315.7,330.8 L317.5,329.5 L319.3,328.1 L321.0,326.7 L322.7,325.4 L324.4,324.0 L326.1,322.6 L327.7,321.2 L329.4,319.7 L331.0,318.3 L332.6,316.9 L334.2,315.4 L335.8,313.9 L337.3,312.5 L338.9,311.0 L340.4,309.5 L342.0,308.0 L343.5,306.4 L345.0,304.9 L346.4,303.4 L347.9,301.8 L349.4,300.2 L350.8,298.7 L352.2,297.1 L353.7,295.5 L355.1,293.8 L356.5,292.2 L357.9,290.5 L359.3,288.9 L360.6,287.2 L362.0,285.5 L363.3,283.8 L364.7,282.1 L366.0,280.3 L367.3,278.6 L368.6,276.8 L369.9,275.0 L371.2,273.2 L372.5,271.3 L373.8,269.5 L375.1,267.6 L376.3,265.7 L377.6,263.8 L378.8,261.9 L380.0,259.9 L381.2,257.9 L382.5,255.9 L383.6,253.9 L384.8,251.8 L386.0,249.8 L387.2,247.7 L388.3,245.5 L389.5,243.4 L390.6,241.2 L391.7,239.0 L392.9,236.7 L393.9,234.5 L395.0,232.2 L396.1,229.9 L397.2,227.5 L398.2,225.1 L399.2,222.7 L400.2,220.2 L401.2,217.8 L402.2,215.2 L403.1,212.7 L404.0,210.1 L404.9,207.5Z" fill="none" stroke="#fff" stroke-width="3" stroke-dasharray="10.4 4.5"/>
<path d="M424.1,204.8 L425.1,201.8 L426.0,198.7 L426.9,195.6 L427.8,192.4 L428.6,189.2 L429.4,186.0 L430.2,182.7 L430.9,179.4 L431.6,176.1 L432.2,172.7 L432.8,169.2 L433.3,165.8 L433.8,162.3 L434.3,158.8 L434.6,155.2 L434.9,151.7 L435.2,148.1 L435.3,144.4 L435.4,140.8 L435.5,137.1 L435.4,133.4 L435.3,129.7 L435.1,126.0 L434.8,122.3 L434.5,118.6 L434.0,114.9 L433.5,111.2 L432.8,107.5 L432.1,103.8 L431.2,100.2 L430.3,96.5 L429.3,93.0 L428.1,89.4 L426.9,85.9 L425.5,82.4 L424.1,79.0 L422.5,75.6 L420.9,72.4 L419.1,69.1 L417.2,66.0 L415.3,62.9 L413.2,60.0 L411.0,57.1 L408.8,54.3 L406.4,51.6 L404.0,49.0 L401.5,46.5 L398.9,44.1 L396.2,41.8 L393.5,39.7 L390.6,37.6 L387.8,35.7 L384.8,33.9 L381.8,32.1 L378.8,30.6 L375.7,29.1 L372.6,27.7 L369.4,26.5 L366.2,25.4 L363.0,24.4 L359.8,23.5 L356.5,22.7 L353.2,22.0 L350.0,21.4 L346.7,20.9 L343.4,20.5 L340.1,20.2 L336.9,20.0 L333.6,19.9 L330.4,19.9 L327.1,20.0 L323.9,20.1 L320.7,20.3 L317.5,20.6 L314.4,20.9 L311.3,21.4 L308.2,21.8 L305.1,22.4 L302.1,23.0 L299.1,23.6 L296.1,24.3 L293.1,25.1 L290.2,25.9 L287.3,26.8 L284.5,27.6 L281.7,28.6 L278.9,29.5 L276.2,30.6 L273.4,31.6 L270.8,32.7 L268.1,33.8 L265.5,34.9 L262.9,36.1 L260.4,37.3 L257.9,38.5 L255.4,39.7 L253.0,41.0 L250.6,42.3 L248.2,43.6 L245.8,44.9 L243.5,46.2 L241.2,47.6 L238.9,49.0 L236.7,50.4 L234.5,51.8 L232.3,53.2 L230.1,54.7 L228.0,56.1 L225.9,57.6 L223.8,59.1 L221.8,60.6 L219.7,62.1 L217.7,63.6 L215.7,65.1 L213.8,66.7 L211.8,68.3 L209.9,69.8 L208.0,71.4 L206.1,73.0 L204.2,74.6 L202.4,76.3 L200.6,77.9 L198.8,79.5 L197.0,81.2 L195.2,82.9 L193.4,84.6 L191.7,86.3 L190.0,88.0 L188.2,89.7 L186.5,91.4 L184.9,93.2 L183.2,94.9 L181.5,96.7 L179.9,98.5 L178.3,100.3 L176.7,102.1 L175.1,104.0 L173.5,105.8 L171.9,107.7 L170.3,109.6 L168.8,111.5 L167.2,113.4 L165.7,115.4 L164.2,117.3 L162.7,119.3 L161.2,121.3 L159.7,123.3 L158.2,125.3 L156.7,127.4 L155.3,129.5 L153.8,131.6 L152.4,133.7 L150.9,135.9 L149.5,138.0 L148.1,140.2 L146.7,142.4 L145.3,144.7 L144.0,147.0 L142.6,149.3 L141.3,151.6 L139.9,153.9 L138.6,156.3 L137.3,158.7 L136.0,161.2 L134.7,163.6 L133.4,166.1 L132.2,168.7 L130.9,171.2 L129.7,173.9 L128.5,176.5 L127.3,179.2 L126.1,181.9 L124.9,184.6 L123.8,187.4 L122.7,190.2 L121.6,193.0 L120.5,195.9 L119.5,198.9 L118.4,201.8 L117.4,204.8 L116.5,207.9 L115.5,211.0 L114.6,214.1 L113.8,217.2 L112.9,220.4 L112.1,223.7 L111.4,226.9 L110.6,230.3 L110.0,233.6 L109.3,237.0 L108.7,240.4 L108.2,243.9 L107.7,247.4 L107.3,250.9 L106.9,254.4 L106.6,258.0 L106.4,261.6 L106.2,265.2 L106.1,268.9 L106.1,272.6 L106.1,276.2 L106.2,279.9 L106.4,283.6 L106.7,287.4 L107.1,291.1 L107.5,294.8 L108.1,298.5 L108.7,302.2 L109.5,305.8 L110.3,309.5 L111.3,313.1 L112.3,316.7 L113.4,320.3 L114.7,323.8 L116.0,327.3 L117.5,330.7 L119.0,334.0 L120.7,337.3 L122.5,340.5 L124.3,343.7 L126.3,346.7 L128.4,349.7 L130.5,352.6 L132.8,355.4 L135.1,358.1 L137.6,360.7 L140.1,363.2 L142.7,365.6 L145.3,367.9 L148.1,370.0 L150.9,372.1 L153.8,374.0 L156.7,375.8 L159.7,377.5 L162.8,379.1 L165.9,380.6 L169.0,381.9 L172.1,383.2 L175.3,384.3 L178.6,385.3 L181.8,386.2 L185.0,387.0 L188.3,387.7 L191.6,388.3 L194.9,388.7 L198.1,389.1 L201.4,389.4 L204.7,389.6 L207.9,389.7 L211.2,389.8 L214.4,389.7 L217.6,389.6 L220.8,389.4 L224.0,389.1 L227.2,388.7 L230.3,388.3 L233.4,387.8 L236.4,387.3 L239.5,386.7 L242.5,386.0 L245.5,385.3 L248.4,384.6 L251.3,383.8 L254.2,382.9 L257.1,382.0 L259.9,381.1 L262.6,380.1 L265.4,379.1 L268.1,378.1 L270.8,377.0 L273.4,375.9 L276.0,374.8 L278.6,373.6 L281.1,372.4 L283.7,371.2 L286.1,369.9 L288.6,368.7 L291.0,367.4 L293.4,366.1 L295.7,364.8 L298.1,363.4 L300.4,362.1 L302.6,360.7 L304.9,359.3 L307.1,357.9 L309.3,356.5 L311.4,355.0 L313.5,353.6 L315.6,352.1 L317.7,350.6 L319.8,349.1 L321.8,347.6 L323.8,346.1 L325.8,344.5 L327.8,343.0 L329.7,341.4 L331.7,339.8 L333.6,338.2 L335.4,336.6 L337.3,335.0 L339.2,333.4 L341.0,331.8 L342.8,330.1 L344.6,328.5 L346.4,326.8 L348.1,325.1 L349.9,323.4 L351.6,321.7 L353.3,320.0 L355.0,318.2 L356.7,316.5 L358.4,314.7 L360.0,312.9 L361.6,311.2 L363.3,309.3 L364.9,307.5 L366.5,305.7 L368.1,303.8 L369.7,302.0 L371.2,300.1 L372.8,298.2 L374.3,296.2 L375.9,294.3 L377.4,292.3 L378.9,290.4 L380.4,288.4 L381.9,286.4 L383.4,284.3 L384.8,282.3 L386.3,280.2 L387.7,278.1 L389.2,276.0 L390.6,273.8 L392.0,271.6 L393.4,269.4 L394.8,267.2 L396.2,265.0 L397.6,262.7 L398.9,260.4 L400.3,258.1 L401.6,255.7 L402.9,253.4 L404.3,250.9 L405.6,248.5 L406.9,246.0 L408.1,243.5 L409.4,241.0 L410.6,238.4 L411.9,235.8 L413.1,233.2 L414.3,230.5 L415.4,227.8 L416.6,225.1 L417.7,222.3 L418.9,219.5 L420.0,216.6 L421.0,213.7 L422.1,210.8 L423.1,207.8Z" fill="none" stroke="#fff" stroke-width="3" stroke-dasharray="10.4 4.5"/>
<path d="M440.4,204.8 L441.5,201.5 L442.5,198.1 L443.5,194.6 L444.5,191.1 L445.4,187.6 L446.3,184.1 L447.2,180.4 L448.0,176.8 L448.7,173.1 L449.4,169.4 L450.1,165.6 L450.7,161.8 L451.2,157.9 L451.7,154.0 L452.1,150.1 L452.4,146.2 L452.7,142.2 L452.9,138.2 L453.0,134.2 L453.0,130.1 L453.0,126.1 L452.8,122.0 L452.6,117.9 L452.3,113.8 L451.9,109.7 L451.4,105.6 L450.8,101.5 L450.1,97.5 L449.2,93.4 L448.3,89.4 L447.3,85.4 L446.1,81.4 L444.9,77.5 L443.5,73.6 L442.0,69.8 L440.4,66.0 L438.7,62.3 L436.8,58.7 L434.9,55.1 L432.8,51.7 L430.6,48.3 L428.4,45.0 L426.0,41.8 L423.5,38.7 L420.9,35.8 L418.2,32.9 L415.4,30.1 L412.5,27.5 L409.6,25.0 L406.5,22.6 L403.4,20.3 L400.2,18.2 L397.0,16.2 L393.6,14.3 L390.3,12.6 L386.9,11.0 L383.4,9.5 L379.9,8.1 L376.4,6.9 L372.8,5.8 L369.2,4.8 L365.6,3.9 L362.0,3.1 L358.4,2.5 L354.8,1.9 L351.1,1.5 L347.5,1.2 L343.9,1.0 L340.3,0.8 L336.7,0.8 L333.1,0.9 L329.6,1.0 L326.0,1.3 L322.5,1.6 L319.0,2.0 L315.6,2.4 L312.2,3.0 L308.8,3.6 L305.4,4.2 L302.1,4.9 L298.8,5.7 L295.5,6.6 L292.3,7.4 L289.1,8.4 L286.0,9.4 L282.8,10.4 L279.8,11.5 L276.7,12.6 L273.7,13.7 L270.8,14.9 L267.8,16.1 L265.0,17.4 L262.1,18.7 L259.3,20.0 L256.5,21.3 L253.8,22.7 L251.1,24.1 L248.4,25.5 L245.8,26.9 L243.2,28.4 L240.6,29.9 L238.0,31.4 L235.5,32.9 L233.1,34.4 L230.6,36.0 L228.2,37.6 L225.8,39.2 L223.4,40.8 L221.1,42.4 L218.8,44.0 L216.5,45.7 L214.3,47.4 L212.1,49.0 L209.9,50.7 L207.7,52.4 L205.5,54.2 L203.4,55.9 L201.3,57.7 L199.2,59.4 L197.2,61.2 L195.1,63.0 L193.1,64.8 L191.1,66.6 L189.1,68.4 L187.1,70.3 L185.2,72.1 L183.3,74.0 L181.3,75.9 L179.5,77.8 L177.6,79.7 L175.7,81.7 L173.9,83.6 L172.0,85.6 L170.2,87.5 L168.4,89.5 L166.6,91.6 L164.9,93.6 L163.1,95.6 L161.4,97.7 L159.6,99.8 L157.9,101.9 L156.2,104.0 L154.5,106.1 L152.8,108.3 L151.1,110.5 L149.5,112.7 L147.8,114.9 L146.2,117.1 L144.6,119.4 L143.0,121.7 L141.4,124.0 L139.8,126.4 L138.2,128.7 L136.6,131.1 L135.1,133.6 L133.5,136.0 L132.0,138.5 L130.5,141.0 L129.0,143.5 L127.5,146.1 L126.0,148.7 L124.5,151.3 L123.1,154.0 L121.6,156.7 L120.2,159.4 L118.8,162.2 L117.4,164.9 L116.0,167.8 L114.7,170.7 L113.3,173.6 L112.0,176.5 L110.7,179.5 L109.4,182.5 L108.2,185.6 L106.9,188.7 L105.7,191.8 L104.5,195.0 L103.4,198.2 L102.2,201.5 L101.1,204.8 L100.0,208.2 L99.0,211.6 L98.0,215.0 L97.0,218.5 L96.1,222.0 L95.2,225.6 L94.4,229.2 L93.6,232.9 L92.8,236.6 L92.1,240.3 L91.5,244.1 L90.9,247.9 L90.4,251.8 L89.9,255.6 L89.5,259.6 L89.1,263.5 L88.9,267.5 L88.7,271.5 L88.6,275.5 L88.5,279.6 L88.6,283.6 L88.7,287.7 L88.9,291.8 L89.2,295.9 L89.7,300.0 L90.2,304.1 L90.8,308.1 L91.5,312.2 L92.3,316.3 L93.2,320.3 L94.3,324.3 L95.4,328.3 L96.7,332.2 L98.1,336.1 L99.6,339.9 L101.2,343.6 L102.9,347.3 L104.7,351.0 L106.7,354.5 L108.7,358.0 L110.9,361.4 L113.2,364.7 L115.6,367.9 L118.1,370.9 L120.7,373.9 L123.4,376.8 L126.2,379.5 L129.0,382.2 L132.0,384.7 L135.0,387.1 L138.1,389.3 L141.3,391.5 L144.6,393.5 L147.9,395.3 L151.3,397.1 L154.7,398.7 L158.1,400.2 L161.6,401.6 L165.2,402.8 L168.7,403.9 L172.3,404.9 L175.9,405.8 L179.5,406.5 L183.2,407.2 L186.8,407.7 L190.4,408.2 L194.0,408.5 L197.7,408.7 L201.3,408.8 L204.9,408.8 L208.4,408.8 L212.0,408.6 L215.5,408.4 L219.0,408.1 L222.5,407.7 L226.0,407.2 L229.4,406.7 L232.8,406.1 L236.2,405.5 L239.5,404.7 L242.8,403.9 L246.0,403.1 L249.3,402.2 L252.4,401.3 L255.6,400.3 L258.7,399.3 L261.8,398.2 L264.8,397.1 L267.8,395.9 L270.8,394.8 L273.7,393.5 L276.6,392.3 L279.4,391.0 L282.2,389.7 L285.0,388.3 L287.8,387.0 L290.5,385.6 L293.1,384.2 L295.8,382.7 L298.4,381.3 L301.0,379.8 L303.5,378.3 L306.0,376.8 L308.5,375.2 L310.9,373.7 L313.4,372.1 L315.7,370.5 L318.1,368.9 L320.4,367.3 L322.7,365.6 L325.0,364.0 L327.3,362.3 L329.5,360.6 L331.7,358.9 L333.9,357.2 L336.0,355.5 L338.1,353.8 L340.2,352.0 L342.3,350.2 L344.4,348.5 L346.4,346.7 L348.5,344.9 L350.5,343.1 L352.4,341.2 L354.4,339.4 L356.4,337.5 L358.3,335.6 L360.2,333.8 L362.1,331.9 L364.0,329.9 L365.8,328.0 L367.7,326.1 L369.5,324.1 L371.3,322.1 L373.1,320.1 L374.9,318.1 L376.7,316.1 L378.4,314.0 L380.2,312.0 L381.9,309.9 L383.6,307.8 L385.4,305.7 L387.1,303.5 L388.7,301.4 L390.4,299.2 L392.1,297.0 L393.7,294.8 L395.4,292.5 L397.0,290.3 L398.6,288.0 L400.2,285.6 L401.8,283.3 L403.4,280.9 L404.9,278.5 L406.5,276.1 L408.0,273.7 L409.6,271.2 L411.1,268.7 L412.6,266.2 L414.1,263.6 L415.6,261.0 L417.0,258.4 L418.5,255.7 L419.9,253.0 L421.3,250.3 L422.7,247.5 L424.1,244.7 L425.5,241.9 L426.9,239.0 L428.2,236.1 L429.5,233.2 L430.8,230.2 L432.1,227.2 L433.4,224.1 L434.6,221.0 L435.8,217.8 L437.0,214.6 L438.2,211.4 L439.3,208.1Z" fill="none" stroke="#fff" stroke-width="3" stroke-dasharray="10.4 4.5"/>
</g>
<rect x="96.9" y="8.9" width="346.7" height="390.6" fill="none" stroke="#000" stroke-width="1.6"/>
<path d="M149.8,399.5v6.4 M270.2,399.5v6.4 M390.6,399.5v6.4 M96.9,312.7h-6.4 M96.9,204.2h-6.4 M96.9,95.6h-6.4" stroke="#000" stroke-width="1.5" fill="none"/>
<text transform="matrix(0.3787,0,0,0.3600,123.94,436.66)" font-size="100" style="font-family:'Liberation Serif',serif">−</text>
<text transform="matrix(0.2900,0,0,0.2955,145.87,432.20)" font-size="100" style="font-family:'Liberation Serif',serif">25</text>
<text transform="matrix(0.2900,0,0,0.2955,262.95,432.20)" font-size="100" style="font-family:'Liberation Serif',serif">0</text>
<text transform="matrix(0.2900,0,0,0.2955,376.12,432.20)" font-size="100" style="font-family:'Liberation Serif',serif">25</text>
<text transform="matrix(0.3787,0,0,0.3600,33.23,327.63)" font-size="100" style="font-family:'Liberation Serif',serif">−</text>
<text transform="matrix(0.2900,0,0,0.2955,55.16,323.17)" font-size="100" style="font-family:'Liberation Serif',serif">20</text>
<text transform="matrix(0.2900,0,0,0.2955,69.66,214.65)" font-size="100" style="font-family:'Liberation Serif',serif">0</text>
<text transform="matrix(0.2900,0,0,0.2955,55.16,106.13)" font-size="100" style="font-family:'Liberation Serif',serif">20</text>
<text transform="matrix(0.3151,0,0,0.2725,255.58,465.38)" font-size="100" style="font-family:'DejaVu Math TeX Gyre','DejaVu Sans',serif">ℰ</text>
<text transform="matrix(0.2514,0,0,0.2273,273.90,469.77)" font-size="100" style="font-family:'Liberation Serif',serif;font-style:italic">I</text>
<text transform="rotate(-90) matrix(0.3132,0,0,0.2725,-220.01,20.08)" font-size="100" style="font-family:'DejaVu Math TeX Gyre','DejaVu Sans',serif">ℰ</text>
<text transform="rotate(-90) matrix(0.2587,0,0,0.2303,-201.42,25.37)" font-size="100" style="font-family:'Liberation Serif',serif;font-style:italic">J</text>
<g clip-path="url(#c2)">
<rect x="450.2" y="8.90" width="17.6" height="65.60" fill="#210a0b"/>
<rect x="450.2" y="74.00" width="17.6" height="65.60" fill="#5e0a0e"/>
<rect x="450.2" y="139.10" width="17.6" height="65.60" fill="#9a1b20"/>
<rect x="450.2" y="204.20" width="17.6" height="65.60" fill="#dd2e28"/>
<rect x="450.2" y="269.30" width="17.6" height="65.60" fill="#f38121"/>
<rect x="450.2" y="334.40" width="17.6" height="65.60" fill="#fdd4a8"/>
<line x1="450.2" x2="467.8" y1="8.90" y2="8.90" stroke="#fff" stroke-width="4"/>
<line x1="450.2" x2="467.8" y1="74.00" y2="74.00" stroke="#fff" stroke-width="3"/>
<line x1="450.2" x2="467.8" y1="139.10" y2="139.10" stroke="#fff" stroke-width="3"/>
<line x1="450.2" x2="467.8" y1="204.20" y2="204.20" stroke="#fff" stroke-width="3"/>
<line x1="450.2" x2="467.8" y1="269.30" y2="269.30" stroke="#fff" stroke-width="3"/>
<line x1="450.2" x2="467.8" y1="334.40" y2="334.40" stroke="#fff" stroke-width="3"/>
<line x1="450.2" x2="467.8" y1="399.50" y2="399.50" stroke="#fff" stroke-width="4"/>
</g>
<rect x="450.2" y="8.9" width="17.6" height="390.6" fill="none" stroke="#000" stroke-width="1.6"/>
<text transform="matrix(0.3787,0,0,0.3600,480.71,23.66)" font-size="100" style="font-family:'Liberation Serif',serif">−</text>
<text transform="matrix(0.2900,0,0,0.2955,502.64,19.20)" font-size="100" style="font-family:'Liberation Serif',serif">2</text>
<text transform="matrix(0.3787,0,0,0.3600,480.71,88.76)" font-size="100" style="font-family:'Liberation Serif',serif">−</text>
<text transform="matrix(0.2900,0,0,0.2955,502.35,84.30)" font-size="100" style="font-family:'Liberation Serif',serif">3</text>
<text transform="matrix(0.3787,0,0,0.3600,480.71,153.86)" font-size="100" style="font-family:'Liberation Serif',serif">−</text>
<text transform="matrix(0.2900,0,0,0.2955,503.22,149.40)" font-size="100" style="font-family:'Liberation Serif',serif">4</text>
<text transform="matrix(0.3787,0,0,0.3600,480.71,218.96)" font-size="100" style="font-family:'Liberation Serif',serif">−</text>
<text transform="matrix(0.2900,0,0,0.2955,502.06,214.50)" font-size="100" style="font-family:'Liberation Serif',serif">5</text>
<text transform="matrix(0.3787,0,0,0.3600,480.71,284.06)" font-size="100" style="font-family:'Liberation Serif',serif">−</text>
<text transform="matrix(0.2900,0,0,0.2955,502.64,279.60)" font-size="100" style="font-family:'Liberation Serif',serif">6</text>
<text transform="matrix(0.3787,0,0,0.3600,480.71,349.16)" font-size="100" style="font-family:'Liberation Serif',serif">−</text>
<text transform="matrix(0.2900,0,0,0.2955,502.06,344.70)" font-size="100" style="font-family:'Liberation Serif',serif">7</text>
<text transform="matrix(0.3787,0,0,0.3600,480.71,414.26)" font-size="100" style="font-family:'Liberation Serif',serif">−</text>
<text transform="matrix(0.2900,0,0,0.2955,502.64,409.80)" font-size="100" style="font-family:'Liberation Serif',serif">8</text>
<path d="M467.8,8.90h6.2 M467.8,74.00h6.2 M467.8,139.10h6.2 M467.8,204.20h6.2 M467.8,269.30h6.2 M467.8,334.40h6.2 M467.8,399.50h6.2" stroke="#000" stroke-width="1.5" fill="none"/>
<text transform="rotate(-90) matrix(0.2597,0,0,0.2956,-249.92,544.79)" font-size="100" style="font-family:'Liberation Serif',serif">log</text>
<text transform="rotate(-90) matrix(0.2115,0,0,0.2132,-214.60,551.07)" font-size="100" style="font-family:'Liberation Serif',serif">10</text>
<text transform="rotate(-90) matrix(0.3015,0,0,0.2747,-189.91,545.35)" font-size="100" style="font-family:'DejaVu Math TeX Gyre','DejaVu Sans',serif">𝒫</text>
<text transform="rotate(-90) matrix(0.1951,0,0,0.2045,-167.78,548.80)" font-size="100" style="font-family:'Liberation Serif',serif">2</text>
<g clip-path="url(#c3)">
<circle cx="712.1" cy="100.1" r="6.4" fill="#f5821f"/>
<circle cx="754.3" cy="165.5" r="6.4" fill="#f5821f"/>
<circle cx="796.5" cy="222.7" r="6.4" fill="#f5821f"/>
<circle cx="838.6" cy="271.3" r="6.4" fill="#f5821f"/>
<circle cx="880.8" cy="311.4" r="6.4" fill="#f5821f"/>
<circle cx="922.9" cy="342.9" r="6.4" fill="#f5821f"/>
<circle cx="965.0" cy="366.2" r="6.4" fill="#f5821f"/>
<circle cx="1007.2" cy="381.6" r="6.4" fill="#f5821f"/>
<circle cx="703.7" cy="85.5" r="6.4" fill="#da282b"/>
<circle cx="737.4" cy="139.2" r="6.4" fill="#da282b"/>
<circle cx="771.2" cy="187.9" r="6.4" fill="#da282b"/>
<circle cx="804.9" cy="231.3" r="6.4" fill="#da282b"/>
<circle cx="838.6" cy="269.4" r="6.4" fill="#da282b"/>
<circle cx="872.3" cy="302.3" r="6.4" fill="#da282b"/>
<circle cx="906.0" cy="329.8" r="6.4" fill="#da282b"/>
<circle cx="939.8" cy="352.1" r="6.4" fill="#da282b"/>
<circle cx="973.5" cy="369.3" r="6.4" fill="#da282b"/>
<circle cx="1007.2" cy="381.6" r="6.4" fill="#da282b"/>
<circle cx="698.1" cy="75.7" r="6.4" fill="#8a5349"/>
<circle cx="726.2" cy="121.3" r="6.4" fill="#8a5349"/>
<circle cx="754.3" cy="163.3" r="6.4" fill="#8a5349"/>
<circle cx="782.4" cy="201.9" r="6.4" fill="#8a5349"/>
<circle cx="810.5" cy="236.9" r="6.4" fill="#8a5349"/>
<circle cx="838.6" cy="268.3" r="6.4" fill="#8a5349"/>
<circle cx="866.7" cy="296.0" r="6.4" fill="#8a5349"/>
<circle cx="894.8" cy="320.2" r="6.4" fill="#8a5349"/>
<circle cx="922.9" cy="340.7" r="6.4" fill="#8a5349"/>
<circle cx="951.0" cy="357.8" r="6.4" fill="#8a5349"/>
<circle cx="979.1" cy="371.3" r="6.4" fill="#8a5349"/>
<circle cx="1007.2" cy="381.6" r="6.4" fill="#8a5349"/>
<circle cx="670.0" cy="26.8" r="6.4" fill="#929498"/>
<circle cx="694.1" cy="68.7" r="6.4" fill="#929498"/>
<circle cx="718.2" cy="108.2" r="6.4" fill="#929498"/>
<circle cx="742.3" cy="145.1" r="6.4" fill="#929498"/>
<circle cx="766.3" cy="179.6" r="6.4" fill="#929498"/>
<circle cx="790.4" cy="211.4" r="6.4" fill="#929498"/>
<circle cx="814.5" cy="240.7" r="6.4" fill="#929498"/>
<circle cx="838.6" cy="267.3" r="6.4" fill="#929498"/>
<circle cx="862.7" cy="291.4" r="6.4" fill="#929498"/>
<circle cx="886.8" cy="312.8" r="6.4" fill="#929498"/>
<circle cx="910.9" cy="331.6" r="6.4" fill="#929498"/>
<circle cx="934.9" cy="347.9" r="6.4" fill="#929498"/>
<circle cx="959.0" cy="361.6" r="6.4" fill="#929498"/>
<circle cx="983.1" cy="372.8" r="6.4" fill="#929498"/>
<circle cx="1007.2" cy="379.2" r="6.4" fill="#929498"/>
<path d="M670.0,26.8 L671.7,29.8 L673.4,32.7 L675.1,35.6 L676.7,38.5 L678.4,41.4 L680.1,44.3 L681.8,47.2 L683.5,50.1 L685.2,52.9 L686.9,55.8 L688.5,58.6 L690.2,61.4 L691.9,64.2 L693.6,67.0 L695.3,69.8 L697.0,72.6 L698.7,75.3 L700.3,78.1 L702.0,80.8 L703.7,83.6 L705.4,86.3 L707.1,89.0 L708.8,91.7 L710.5,94.3 L712.1,97.0 L713.8,99.7 L715.5,102.3 L717.2,104.9 L718.9,107.6 L720.6,110.2 L722.3,112.8 L724.0,115.3 L725.6,117.9 L727.3,120.5 L729.0,123.0 L730.7,125.6 L732.4,128.1 L734.1,130.6 L735.8,133.1 L737.4,135.6 L739.1,138.1 L740.8,140.5 L742.5,143.0 L744.2,145.4 L745.9,147.9 L747.6,150.3 L749.2,152.7 L750.9,155.1 L752.6,157.5 L754.3,159.8 L756.0,162.2 L757.7,164.5 L759.4,166.9 L761.0,169.2 L762.7,171.5 L764.4,173.8 L766.1,176.1 L767.8,178.4 L769.5,180.6 L771.2,182.9 L772.8,185.1 L774.5,187.4 L776.2,189.6 L777.9,191.8 L779.6,194.0 L781.3,196.2 L783.0,198.3 L784.6,200.5 L786.3,202.6 L788.0,204.8 L789.7,206.9 L791.4,209.0 L793.1,211.1 L794.8,213.2 L796.5,215.3 L798.1,217.3 L799.8,219.4 L801.5,221.4 L803.2,223.4 L804.9,225.5 L806.6,227.5 L808.3,229.5 L809.9,231.4 L811.6,233.4 L813.3,235.4 L815.0,237.3 L816.7,239.2 L818.4,241.2 L820.1,243.1 L821.7,245.0 L823.4,246.9 L825.1,248.7 L826.8,250.6 L828.5,252.4 L830.2,254.3 L831.9,256.1 L833.5,257.9 L835.2,259.7 L836.9,261.5 L838.6,263.3 L840.3,265.1 L842.0,266.8 L843.7,268.6 L845.3,270.3 L847.0,272.0 L848.7,273.7 L850.4,275.4 L852.1,277.1 L853.8,278.8 L855.5,280.4 L857.1,282.1 L858.8,283.7 L860.5,285.4 L862.2,287.0 L863.9,288.6 L865.6,290.2 L867.3,291.7 L868.9,293.3 L870.6,294.9 L872.3,296.4 L874.0,297.9 L875.7,299.5 L877.4,301.0 L879.1,302.5 L880.8,303.9 L882.4,305.4 L884.1,306.9 L885.8,308.3 L887.5,309.8 L889.2,311.2 L890.9,312.6 L892.6,314.0 L894.2,315.4 L895.9,316.8 L897.6,318.1 L899.3,319.5 L901.0,320.8 L902.7,322.2 L904.4,323.5 L906.0,324.8 L907.7,326.1 L909.4,327.4 L911.1,328.6 L912.8,329.9 L914.5,331.1 L916.2,332.4 L917.8,333.6 L919.5,334.8 L921.2,336.0 L922.9,337.2 L924.6,338.4 L926.3,339.5 L928.0,340.7 L929.6,341.8 L931.3,343.0 L933.0,344.1 L934.7,345.2 L936.4,346.3 L938.1,347.4 L939.8,348.4 L941.4,349.5 L943.1,350.5 L944.8,351.6 L946.5,352.6 L948.2,353.6 L949.9,354.6 L951.6,355.6 L953.2,356.6 L954.9,357.5 L956.6,358.5 L958.3,359.4 L960.0,360.4 L961.7,361.3 L963.4,362.2 L965.0,363.1 L966.7,364.0 L968.4,364.8 L970.1,365.7 L971.8,366.5 L973.5,367.4 L975.2,368.2 L976.9,369.0 L978.5,369.8 L980.2,370.6 L981.9,371.4 L983.6,372.1 L985.3,372.9 L987.0,373.6 L988.7,374.3 L990.3,375.0 L992.0,375.7 L993.7,376.4 L995.4,377.1 L997.1,377.8 L998.8,378.4 L1000.5,379.1 L1002.1,379.7 L1003.8,380.3 L1005.5,381.0 L1007.2,381.6" fill="none" stroke="#111" stroke-width="2.6" stroke-dasharray="9.6 4.2"/>
</g>
<rect x="653.1" y="8.9" width="370.9" height="390.4" fill="none" stroke="#000" stroke-width="1.6"/>
<text transform="matrix(0.2900,0,0,0.2955,662.75,432.20)" font-size="100" style="font-family:'Liberation Serif',serif">0</text>
<text transform="matrix(0.2900,0,0,0.2955,728.92,432.20)" font-size="100" style="font-family:'Liberation Serif',serif">0.25</text>
<text transform="matrix(0.2900,0,0,0.2955,820.48,432.20)" font-size="100" style="font-family:'Liberation Serif',serif">0.5</text>
<text transform="matrix(0.2900,0,0,0.2955,897.52,432.20)" font-size="100" style="font-family:'Liberation Serif',serif">0.75</text>
<text transform="matrix(0.2900,0,0,0.2955,999.51,432.20)" font-size="100" style="font-family:'Liberation Serif',serif">1</text>
<text transform="matrix(0.2900,0,0,0.2955,604.71,37.20)" font-size="100" style="font-family:'Liberation Serif',serif">1.0</text>
<text transform="matrix(0.2900,0,0,0.2955,604.71,155.45)" font-size="100" style="font-family:'Liberation Serif',serif">0.5</text>
<text transform="matrix(0.2900,0,0,0.2955,604.71,273.70)" font-size="100" style="font-family:'Liberation Serif',serif">0.0</text>
<text transform="matrix(0.3787,0,0,0.3600,582.78,396.41)" font-size="100" style="font-family:'Liberation Serif',serif">−</text>
<text transform="matrix(0.2900,0,0,0.2955,604.71,391.95)" font-size="100" style="font-family:'Liberation Serif',serif">0.5</text>
<path d="M670.0,399.3v6.4 M754.3,399.3v6.4 M838.6,399.3v6.4 M922.9,399.3v6.4 M1007.2,399.3v6.4 M653.1,26.8h-6.4 M653.1,145.1h-6.4 M653.1,263.3h-6.4 M653.1,381.6h-6.4" stroke="#000" stroke-width="1.5" fill="none"/>
<text transform="matrix(0.3314,0,0,0.2915,814.67,466.90)" font-size="100" style="font-family:'Liberation Serif',serif;font-style:italic">r</text>
<text transform="matrix(0.3750,0,0,0.4373,830.40,473.43)" font-size="100" style="font-family:'Liberation Serif',serif">/</text>
<text transform="matrix(0.3250,0,0,0.3092,844.43,466.90)" font-size="100" style="font-family:'Liberation Serif',serif;font-style:italic">L</text>
<text transform="rotate(-90) matrix(0.3508,0,0,0.3194,-271.35,589.78)" font-size="100" style="font-family:'Liberation Serif',serif;font-style:italic">C</text>
<text transform="rotate(-90) matrix(0.3038,0,0,0.3344,-245.52,590.18)" font-size="100" style="font-family:'Liberation Serif',serif">(</text>
<text transform="rotate(-90) matrix(0.3400,0,0,0.2702,-236.96,589.30)" font-size="100" style="font-family:'Liberation Serif',serif;font-style:italic">r</text>
<text transform="rotate(-90) matrix(0.3077,0,0,0.3344,-223.12,590.18)" font-size="100" style="font-family:'Liberation Serif',serif">)</text>
<text transform="rotate(-90) matrix(0.4107,0,0,0.4388,-210.50,595.52)" font-size="100" style="font-family:'Liberation Serif',serif">/</text>
<text transform="rotate(-90) matrix(0.3270,0,0,0.3075,-198.33,589.79)" font-size="100" style="font-family:'Liberation Serif',serif;font-style:italic">C</text>
<text transform="rotate(-90) matrix(0.2423,0,0,0.3344,-173.17,590.18)" font-size="100" style="font-family:'Liberation Serif',serif">(</text>
<text transform="rotate(-90) matrix(0.2643,0,0,0.2794,-163.76,588.74)" font-size="100" style="font-family:'Liberation Serif',serif">0</text>
<text transform="rotate(-90) matrix(0.2731,0,0,0.3344,-150.02,590.18)" font-size="100" style="font-family:'Liberation Serif',serif">)</text>
<rect x="937.4" y="23.8" width="72.4" height="207.6" rx="4.5" fill="#fff" fill-opacity="0.8" stroke="#cbcbcb" stroke-width="1.9"/>
<text transform="matrix(0.3346,0,0,0.3154,950.43,55.60)" font-size="100" style="font-family:'Liberation Serif',serif;font-style:italic">L</text>
<text transform="matrix(0.4106,0,0,0.2760,975.55,57.30)" font-size="100" style="font-family:'Liberation Serif',serif">=</text>
<circle cx="953.6" cy="85.8" r="6.4" fill="#f5821f"/>
<text transform="matrix(0.2900,0,0,0.2955,967.94,95.90)" font-size="100" style="font-family:'Liberation Serif',serif">8</text>
<circle cx="953.6" cy="126.1" r="6.4" fill="#da282b"/>
<text transform="matrix(0.2900,0,0,0.2955,966.49,136.23)" font-size="100" style="font-family:'Liberation Serif',serif">10</text>
<circle cx="953.6" cy="166.5" r="6.4" fill="#8a5349"/>
<text transform="matrix(0.2900,0,0,0.2955,966.49,176.56)" font-size="100" style="font-family:'Liberation Serif',serif">12</text>
<circle cx="953.6" cy="206.8" r="6.4" fill="#929498"/>
<text transform="matrix(0.2900,0,0,0.2955,966.49,216.89)" font-size="100" style="font-family:'Liberation Serif',serif">14</text>
</svg></body></html>
